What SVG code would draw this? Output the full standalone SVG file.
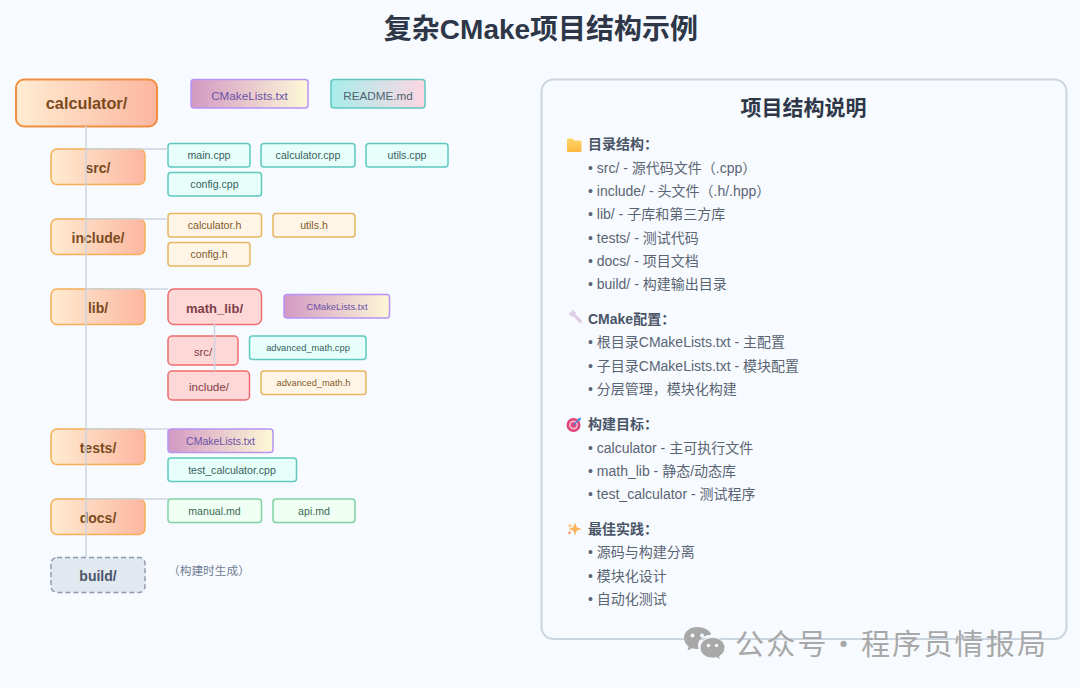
<svg xmlns="http://www.w3.org/2000/svg" width="1080" height="688" viewBox="0 0 1080 688">
<defs>
<linearGradient id="gDir"><stop offset="0" stop-color="#ffecd2"/><stop offset="1" stop-color="#fcb69f"/></linearGradient>
<linearGradient id="gCm"><stop offset="0" stop-color="#d299c2"/><stop offset="1" stop-color="#fef9d7"/></linearGradient>
<linearGradient id="gRd"><stop offset="0" stop-color="#a8edea"/><stop offset="1" stop-color="#fed6e3"/></linearGradient>
<linearGradient id="gFolder" x1="0" y1="0" x2="0" y2="1"><stop offset="0" stop-color="#ffd56b"/><stop offset="1" stop-color="#fdb83f"/></linearGradient>
</defs>
<style>
text{font-family:"Liberation Sans","Noto Sans CJK SC",Arial,sans-serif}
.m{text-anchor:middle}
.dir rect{fill:url(#gDir);stroke:#f6ad55;stroke-width:1.5}
.dir text{font-size:14px;font-weight:700;fill:#7a4a1c}
.cm rect{fill:url(#gCm);stroke:#b794f6;stroke-width:1.5}
.cm text{fill:#6b52a8}
.cpp rect{fill:#e6fffa;stroke:#5fc9c0;stroke-width:1.5}
.cpp text{fill:#38605f}
.h rect{fill:#fff5e6;stroke:#e6b660;stroke-width:1.5}
.h text{fill:#7f5a2a}
.md rect{fill:#f0fff4;stroke:#7fd3a2;stroke-width:1.5}
.md text{fill:#3d6a55}
.sub rect{fill:#fed7d7;stroke:#ee6b6e;stroke-width:1.5}
.sub text{fill:#7f4049}
.f{font-size:10.6px}
.hd{font-size:14px;font-weight:700;fill:#4a5568}
.it{font-size:14px;fill:#5a6574}
.conn line{stroke:#cbd5e0;stroke-width:1.5}
</style>
<rect width="1080" height="688" fill="#f7fafe"/>
<text id="title" class="m" x="541" y="39" font-size="28" font-weight="700" fill="#2d3748">复杂CMake项目结构示例</text>

<g id="root"><rect x="16" y="79.500" width="141" height="47" rx="8" fill="url(#gDir)" stroke="#ef8f42" stroke-width="2"/><text class="m" x="86.500" y="109" font-size="16.300" font-weight="700" fill="#7a4a1c">calculator/</text></g>
<g id="root-cmake" class="cm"><rect x="191" y="79.500" width="117" height="28.500" rx="3"/><text class="m" x="249.500" y="100" font-size="11.700">CMakeLists.txt</text></g>
<g id="root-readme"><rect x="331" y="79.500" width="94" height="28.500" rx="3" fill="url(#gRd)" stroke="#5fc9c0" stroke-width="1.500"/><text class="m" x="378" y="100" font-size="11.700" fill="#4f6470">README.md</text></g>

<g id="src" class="dir"><rect x="51" y="149" width="94" height="35.500" rx="6"/><text class="m" x="98" y="172.500">src/</text></g>
<g id="main-cpp" class="cpp"><rect x="168" y="143.500" width="82" height="23.500" rx="3"/><text class="m f" x="209" y="159">main.cpp</text></g>
<g id="calculator-cpp" class="cpp"><rect x="261" y="143.500" width="94" height="23.500" rx="3"/><text class="m f" x="308" y="159">calculator.cpp</text></g>
<g id="utils-cpp" class="cpp"><rect x="366" y="143.500" width="82" height="23.500" rx="3"/><text class="m f" x="407" y="159">utils.cpp</text></g>
<g id="config-cpp" class="cpp"><rect x="168" y="172.500" width="93.500" height="23.500" rx="3"/><text class="m f" x="214.500" y="188">config.cpp</text></g>

<g id="include" class="dir"><rect x="51" y="219" width="94" height="35.500" rx="6"/><text class="m" x="98" y="242.500">include/</text></g>
<g id="calculator-h" class="h"><rect x="168" y="213.500" width="93.500" height="23.500" rx="3"/><text class="m f" x="214.500" y="229">calculator.h</text></g>
<g id="utils-h" class="h"><rect x="273" y="213.500" width="82" height="23.500" rx="3"/><text class="m f" x="314" y="229">utils.h</text></g>
<g id="config-h" class="h"><rect x="168" y="242.500" width="82" height="23.500" rx="3"/><text class="m f" x="209" y="258">config.h</text></g>

<g id="lib" class="dir"><rect x="51" y="289" width="94" height="35.500" rx="6"/><text class="m" x="98" y="312.500">lib/</text></g>
<g id="math-lib" class="sub"><rect x="168" y="289" width="93.500" height="35.500" rx="6"/><text class="m" x="214.500" y="312.500" font-size="13" font-weight="700">math_lib/</text></g>
<g id="math-cmake" class="cm"><rect x="284" y="294.500" width="105.500" height="23.500" rx="3"/><text class="m" x="337" y="310" font-size="9.300">CMakeLists.txt</text></g>
<g id="math-src" class="sub"><rect x="168" y="336" width="70" height="29" rx="4"/><text class="m" x="203" y="356" font-size="11.300">src/</text></g>
<g id="advanced-cpp" class="cpp"><rect x="249.500" y="336" width="116.500" height="23.500" rx="3"/><text class="m" x="308" y="351" font-size="9.300">advanced_math.cpp</text></g>
<g id="math-include" class="sub"><rect x="168" y="371" width="81.500" height="29" rx="4"/><text class="m" x="209" y="391" font-size="11.600">include/</text></g>
<g id="advanced-h" class="h"><rect x="261" y="371" width="105" height="23.500" rx="3"/><text class="m" x="313.500" y="386" font-size="9.300">advanced_math.h</text></g>

<g id="tests" class="dir"><rect x="51" y="429" width="94" height="35.500" rx="6"/><text class="m" x="98" y="452.500">tests/</text></g>
<g id="tests-cmake" class="cm"><rect x="168" y="429" width="105" height="23.500" rx="3"/><text class="m" x="220.500" y="445" font-size="10.500">CMakeLists.txt</text></g>
<g id="test-cpp" class="cpp"><rect x="168" y="458" width="128.500" height="23.500" rx="3"/><text class="m f" x="232" y="474">test_calculator.cpp</text></g>

<g id="docs" class="dir"><rect x="51" y="499" width="94" height="35.500" rx="6"/><text class="m" x="98" y="522.500">docs/</text></g>
<g id="manual-md" class="md"><rect x="168" y="499" width="93.500" height="23.500" rx="3"/><text class="m f" x="214.500" y="515">manual.md</text></g>
<g id="api-md" class="md"><rect x="273" y="499" width="82" height="23.500" rx="3"/><text class="m f" x="314" y="515">api.md</text></g>

<g id="build"><rect x="51" y="557.500" width="94" height="35" rx="6" fill="#e2e8f0" stroke="#8f9bb0" stroke-width="1.500" stroke-dasharray="5 3"/><text class="m" x="98" y="581" font-size="14" font-weight="700" fill="#4a5568">build/</text></g>
<text id="build-note" x="168" y="575" font-size="11.700" fill="#718096">（构建时生成）</text>

<g id="connectors" class="conn">
<line x1="86" y1="126" x2="86" y2="557"/>
<line x1="86" y1="149" x2="168" y2="149"/>
<line x1="86" y1="219" x2="168" y2="219"/>
<line x1="86" y1="289" x2="168" y2="289"/>
<line x1="86" y1="429" x2="168" y2="429"/>
<line x1="86" y1="499" x2="168" y2="499"/>
<line x1="214.500" y1="324" x2="214.500" y2="371"/>
</g>

<g id="panel">
<rect x="541.500" y="79.500" width="525" height="559.500" rx="12" fill="#f7fafe" stroke="#cbd5e0" stroke-width="2"/>
<text class="m" x="803.500" y="114.500" font-size="21" font-weight="700" fill="#2d3748">项目结构说明</text>

<g id="icon-folder"><path d="M567 139.500a1 1 0 0 1 1-1h4.500l2 2h6a1 1 0 0 1 1 1v9.500a1 1 0 0 1-1 1H568a1 1 0 0 1-1-1z" fill="url(#gFolder)"/></g>
<text class="hd" x="588" y="149">目录结构：</text>
<text class="it" x="588" y="172.500">• src/ - 源代码文件（.cpp）</text>
<text class="it" x="588" y="196">• include/ - 头文件（.h/.hpp）</text>
<text class="it" x="588" y="219">• lib/ - 子库和第三方库</text>
<text class="it" x="588" y="242.500">• tests/ - 测试代码</text>
<text class="it" x="588" y="266">• docs/ - 项目文档</text>
<text class="it" x="588" y="289">• build/ - 构建输出目录</text>

<g id="icon-wrench"><path d="M569 313.500l3 3 1.500-.5 5.500 6 2.500.5-.5-2.500-6-5.500.5-1.500-3-3-.5 2.500-1.500.5z" fill="#dccde2" stroke="#dccde2" stroke-width=".8"/></g>
<text class="hd" x="588" y="324">CMake配置：</text>
<text class="it" x="588" y="347">• 根目录CMakeLists.txt - 主配置</text>
<text class="it" x="588" y="371">• 子目录CMakeLists.txt - 模块配置</text>
<text class="it" x="588" y="394">• 分层管理，模块化构建</text>

<g id="icon-target"><circle cx="573.500" cy="425" r="7" fill="#e0457b"/><circle cx="573.500" cy="425" r="4.500" fill="#f3b5cb"/><circle cx="573.500" cy="425" r="2.800" fill="#e0457b"/><path d="M573.500 425l6-6" stroke="#3f8fd8" stroke-width="1.300"/><path d="M578 418.500l2.500-1 .5 2-2 1.500z" fill="#3f8fd8"/></g>
<text class="hd" x="588" y="429">构建目标：</text>
<text class="it" x="588" y="452.500">• calculator - 主可执行文件</text>
<text class="it" x="588" y="476">• math_lib - 静态/动态库</text>
<text class="it" x="588" y="499">• test_calculator - 测试程序</text>

<g id="icon-sparkle"><path d="M575 522.500l1.700 4.800 4.800 1.700-4.800 1.700-1.700 4.800-1.700-4.800-4.800-1.700 4.800-1.700z" fill="#fdb35a"/><path d="M570 523l.8 2 2 .8-2 .8-.8 2-.8-2-2-.8 2-.8z" fill="#fdc77f"/><path d="M569.500 530.500l.7 1.500 1.500.7-1.500.7-.7 1.500-.7-1.500-1.500-.7 1.500-.7z" fill="#fb9a63"/></g>
<text class="hd" x="588" y="534">最佳实践：</text>
<text class="it" x="588" y="557">• 源码与构建分离</text>
<text class="it" x="588" y="580.500">• 模块化设计</text>
<text class="it" x="588" y="604">• 自动化测试</text>
</g>

<g id="watermark" fill="#a8a8a8">
<path d="M697 627c-7.200 0-13 4.800-13 11 0 3.500 1.800 6.500 4.600 8.600l-1.100 4 4.500-2.300c1.500.5 3.100.7 4.800.7.600 0 1.200 0 1.800-.1-.4-1.100-.6-2.300-.6-3.500 0-5.800 5.300-10.400 13.200-10.700-1.400-4.500-7-7.700-14.200-7.700z"/>
<path d="M712.500 637.500c-7 0-12.500 4.600-12.500 10.300s5.500 10.300 12.500 10.300c1.400 0 2.700-.2 4-.6l4.200 2.500-1.100-3.800c3.300-2 5.400-5 5.400-8.400 0-5.700-5.500-10.300-12.500-10.300z" stroke="#f7fafe" stroke-width="1"/>
<g fill="#f7fafe"><circle cx="692.500" cy="635.500" r="1.900"/><circle cx="702" cy="635.500" r="1.900"/><circle cx="708.500" cy="645.500" r="1.700"/><circle cx="716.500" cy="645.500" r="1.700"/></g>
<text y="655" font-size="29" letter-spacing="2.200" style="font-family:'Noto Sans CJK SC',sans-serif;font-weight:400"><tspan x="735">公众号</tspan> <tspan x="829">·</tspan> <tspan x="861">程序员情报局</tspan></text>
</g>
</svg>
